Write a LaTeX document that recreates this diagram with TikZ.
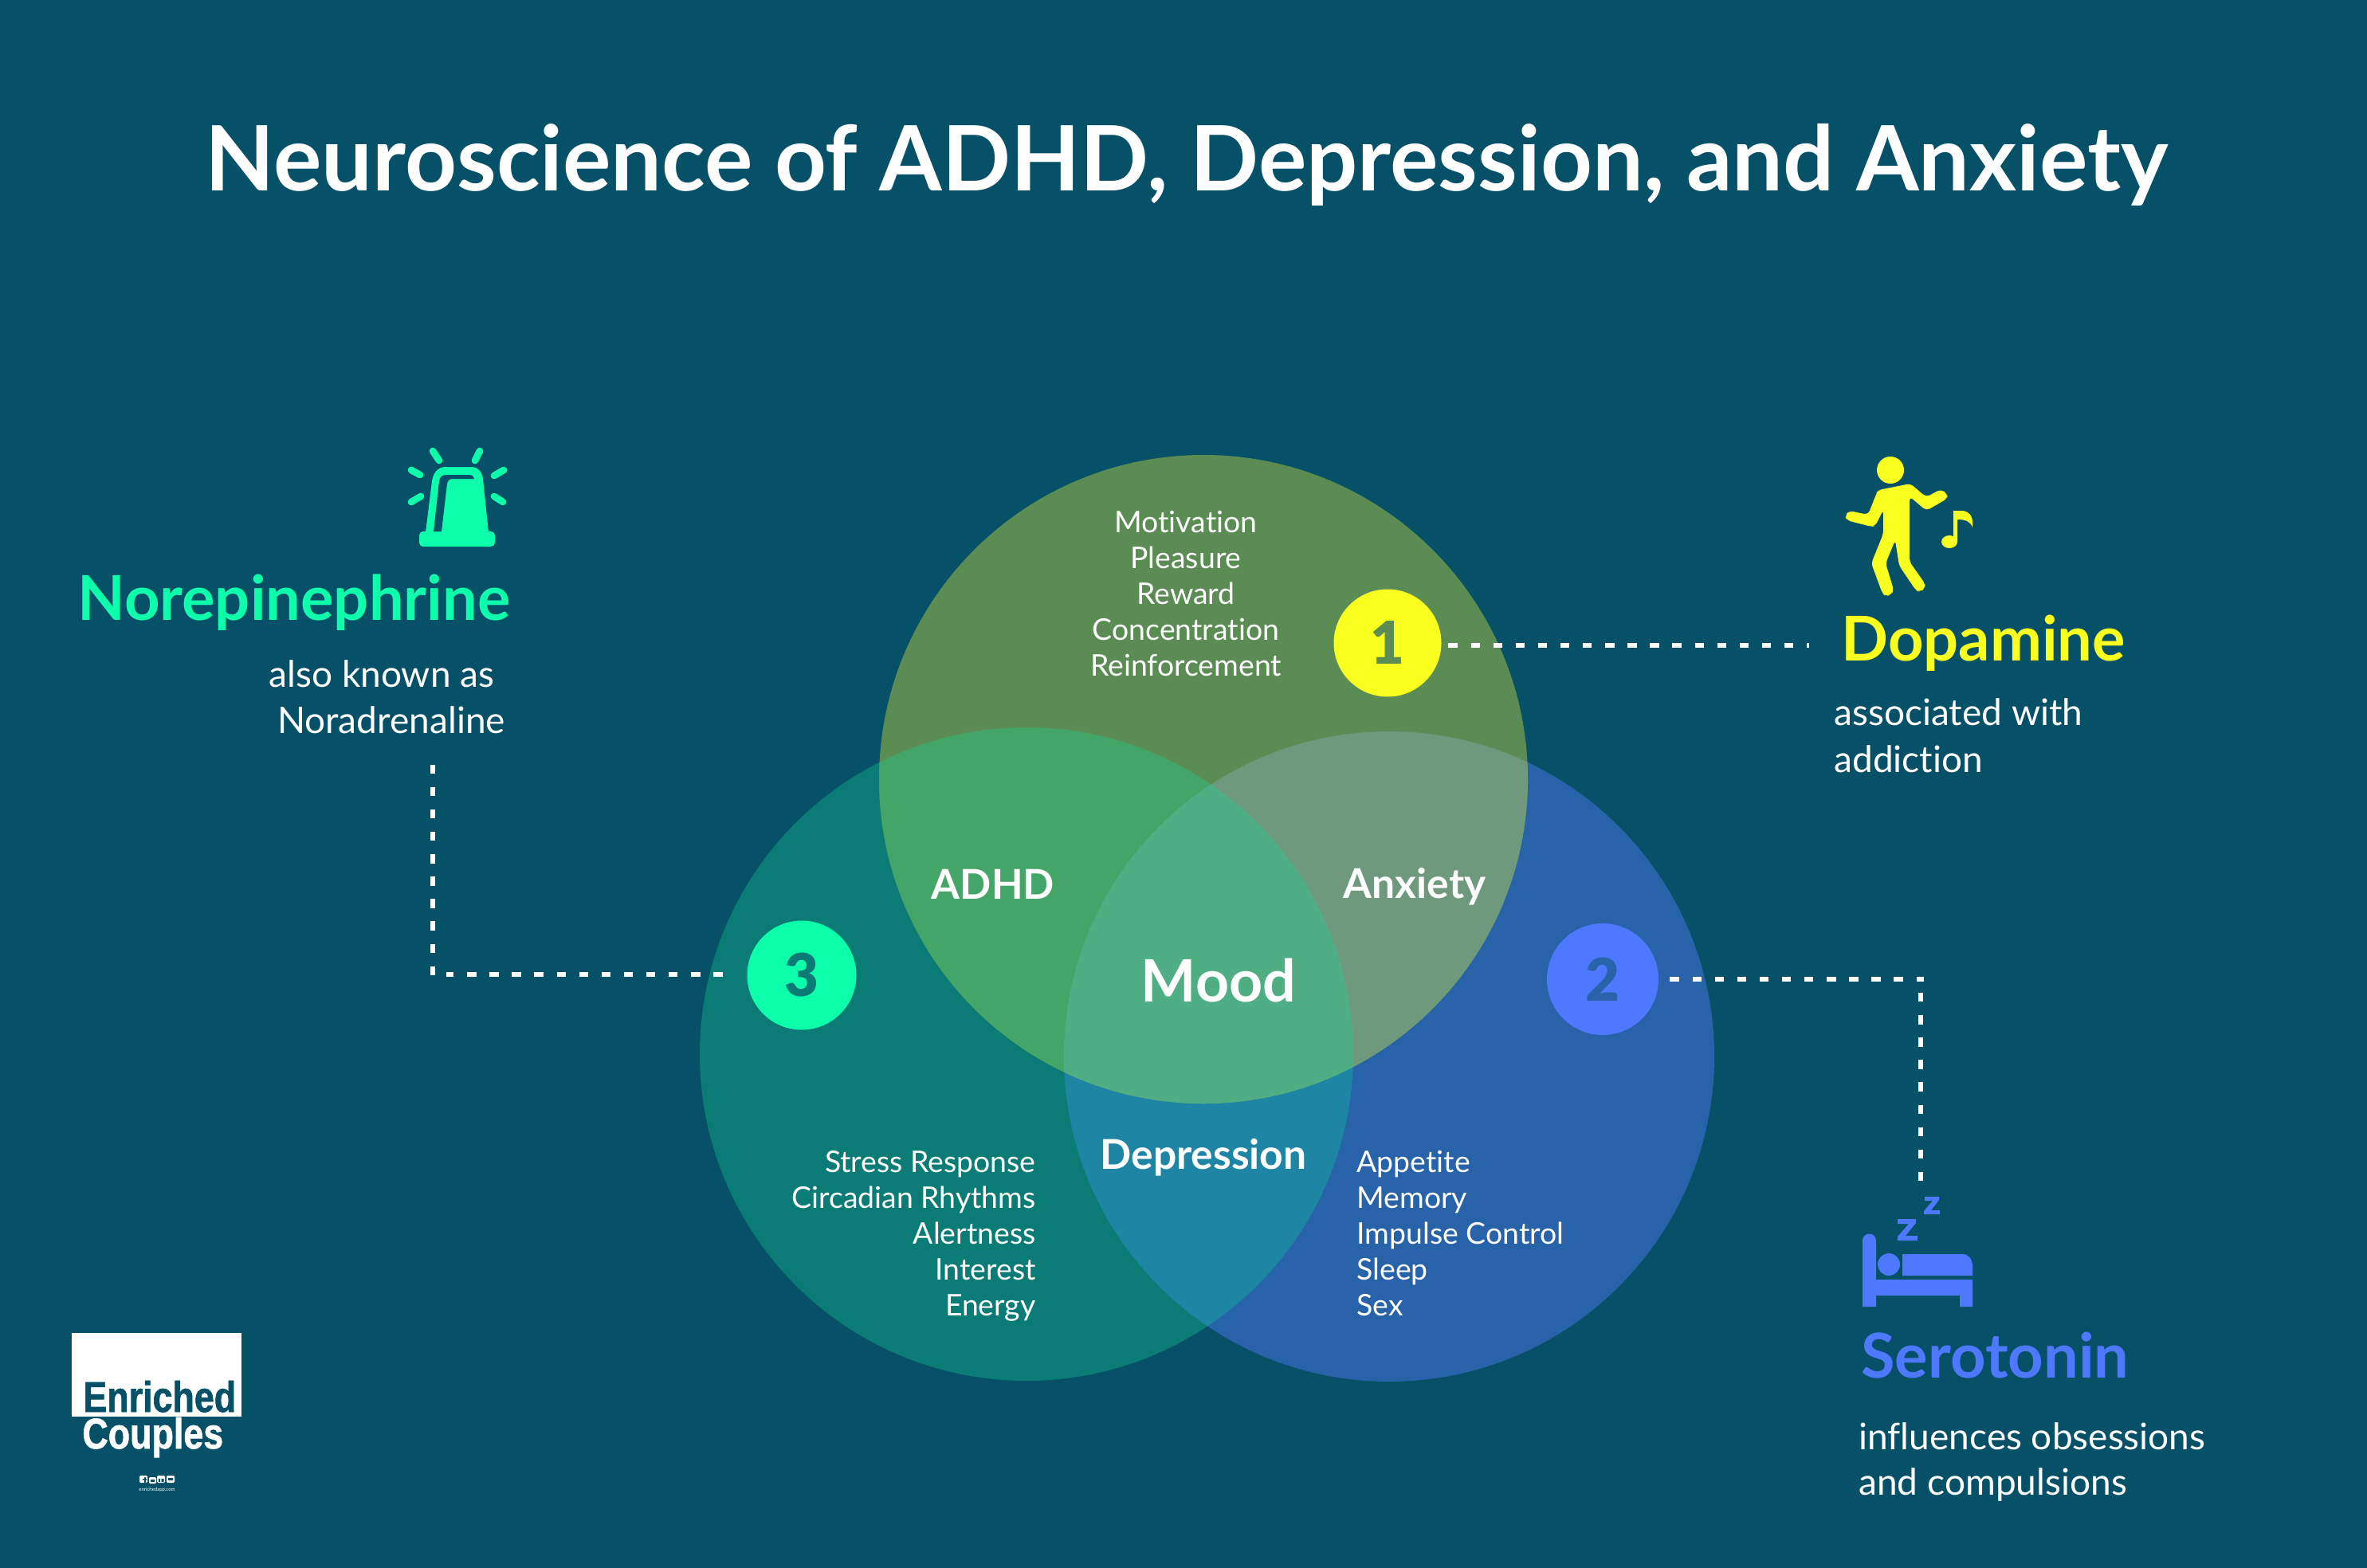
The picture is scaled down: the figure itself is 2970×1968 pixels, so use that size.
\documentclass[tikz,border=0pt]{standalone}
\usepackage{fontspec}
\setmainfont{Lato}[Ligatures={TeX,NoCommon}]
\newfontfamily\logof[FakeStretch=.83,FakeBold=1.2]{Liberation Sans}
\newfontfamily\blackf{Lato Black}
\definecolor{bgc}{RGB}{6,80,104}
\definecolor{yel}{RGB}{249,255,30}
\definecolor{grn}{RGB}{14,255,172}
\definecolor{blu}{RGB}{78,120,255}
\definecolor{rtop}{RGB}{90,140,83}
\definecolor{rleft}{RGB}{10,124,117}
\definecolor{rright}{RGB}{40,99,169}
\definecolor{radhd}{RGB}{67,165,103}
\definecolor{ranx}{RGB}{111,153,125}
\definecolor{rdep}{RGB}{31,133,164}
\definecolor{rmood}{RGB}{80,174,132}
\newcommand{\fss}[2]{\fontsize{#1}{#2}\selectfont}
\newcommand{\cT}{(1510,978) circle [radius=407]}
\newcommand{\cL}{(1288,1323) circle [radius=410]}
\newcommand{\cR}{(1743,1326) circle [radius=408]}
\tikzset{
 x=0.5pt,y=-0.5pt,
 lbl/.style={text=white,inner sep=0pt,font=\fss{23}{28}},
 listbox/.style={text=white,inner sep=0pt,font=\fss{18.7}{22.5}},
 area/.style={text=white,inner sep=0pt,anchor=base,font=\bfseries\fss{25.8}{30}},
 numb/.style={circle,inner sep=0pt,font=\blackf\fss{37}{40}},
 headg/.style={inner sep=0pt,anchor=west,font=\bfseries\fss{38.8}{44}},
 dots/.style={white,line width=2.85pt,dash pattern=on 5.7pt off 8.35pt},
}
\begin{document}
\begin{tikzpicture}
\useasboundingbox (0,0) rectangle (2970,1968);
\fill[bgc] (0,0) rectangle (2970,1968);
\node[text=white,inner sep=0pt,font=\bfseries\fss{56.6}{60}] (title) at (1489,207) {Neuroscience of ADHD, Depression, and Anxiety};
% venn regions
\fill[rright] \cR;
\fill[rleft] \cL;
\fill[rtop] \cT;
\begin{scope}\clip \cL; \fill[rdep] \cR; \end{scope}
\begin{scope}\clip \cL; \fill[radhd] \cT; \end{scope}
\begin{scope}\clip \cR; \fill[ranx] \cT; \end{scope}
\begin{scope}\clip \cL; \clip \cR; \fill[rmood] \cT; \end{scope}
% badges
\node[numb,fill=yel,text=rtop,minimum size=67.5pt] (n1) at (1741,807) {1};
\node[numb,fill=blu,text=rright,minimum size=70pt] (n2) at (2011,1229) {2};
\node[numb,fill=grn,text=rleft,minimum size=68.5pt] (n3) at (1006,1224) {3};
% lists
\node[listbox,align=center,anchor=north] (l1) at (1488,641) {Motivation\\Pleasure\\Reward\\Concentration\\Reinforcement};
\node[listbox,align=right,anchor=north east] (l3) at (1300,1444) {Stress Response\\Circadian Rhythms\\Alertness\\Interest\\Energy};
\node[listbox,align=left,anchor=north west] (l2) at (1702,1444) {Appetite\\Memory\\Impulse Control\\Sleep\\Sex};
\node[area] (adhd) at (1246,1128) {ADHD};
\node[area] (anx) at (1775,1127) {Anxiety};
\node[area] (dep) at (1510,1467) {Depression};
\node[area,font=\bfseries\fss{36.7}{40}] (mood) at (1529,1257) {Mood};
% side text
\node[headg,text=grn] (ne) at (97,756) {Norepinephrine};
\node[lbl] (ne1) at (479,846) {also known as};
\node[lbl] (ne2) at (491,904) {Noradrenaline};
\node[headg,text=yel] (da) at (2310,807) {Dopamine};
\node[lbl,anchor=west] (da1) at (2301,894) {associated with};
\node[lbl,anchor=west] (da2) at (2301,953) {addiction};
\node[headg,text=blu] (se) at (2335,1701) {Serotonin};
\node[lbl,anchor=west] (se1) at (2332,1803) {influences obsessions};
\node[lbl,anchor=west] (se2) at (2332,1863) {and compulsions};
% connectors
\coordinate (c1) at (2270,810);
\coordinate (c2a) at (2414,1229);
\coordinate (c2b) at (2410,1246);
\coordinate (c2c) at (2410,1482);
\coordinate (c3a) at (560,1223);
\coordinate (c3b) at (543,1224);
\coordinate (c3c) at (543,959);
\draw[dots] ([shift={(8.5,3)}]n1.east) -- (c1);
\draw[dots] ([xshift=7pt]n2.east) -- (c2a);
\draw[dots] (c2b) -- (c2c);
\draw[dots] ([shift={(-30.5,-1)}]n3.west) -- (c3a);
\draw[dots] (c3b) -- (c3c);
% alarm icon
\fill[grn,rounded corners=2.5pt] (526,667) rectangle (621,686);
\fill[grn] (534,668) -- (542,604) .. controls (544,592) and (550,586) .. (560,586) -- (590,586) .. controls (600,586) and (605,592) .. (606,602) -- (613,668) -- cycle;
\fill[bgc] (544,667) -- (551,604) .. controls (552,599) and (554,596) .. (560,596) -- (590,596) .. controls (593,596) and (594,598) .. (595,601) -- (568,601) .. controls (564,601) and (562,603) .. (561,607) -- (554,667) -- cycle;
\draw[grn,line width=4.3pt,line cap=round]
 (543,566) -- (551,578) (602,566) -- (596,578)
 (516,590) -- (527,596) (516,630) -- (528,623)
 (632,590) -- (620,597) (631,630) -- (620,623);
% dancer
\fill[yel] (2372,590) circle [radius=17];
\fill[yel,rounded corners=2.5pt] (2357,615) -- (2397,607) -- (2417,624) -- (2435,614)
 -- (2444,620) -- (2443,626) -- (2417,641) -- (2396,623) -- (2396,705) -- (2415,732)
 -- (2416,738) -- (2409,743) -- (2404,741) -- (2383,710) -- (2378,678) -- (2366,707) -- (2376,740) -- (2373,747) -- (2366,748) -- (2362,745) -- (2348,707) -- (2363,670) -- (2363,640) -- (2353,660) -- (2348,661) -- (2317,653) -- (2315,647) -- (2320,641) -- (2344,646) -- (2355,618) -- cycle;
\fill[yel] (2446,680) ellipse [x radius=10,y radius=8];
\fill[yel] (2451,680) -- (2451,641) -- (2463,641) .. controls (2474,643) and (2476,652) .. (2475,662) .. controls (2472,654) and (2466,652) .. (2456,652) -- (2456,680) -- cycle;
% bed
\fill[blu] (2337,1640) -- (2337,1557) arc [start angle=180,end angle=360,radius=8.5] -- (2354,1606) -- (2475,1606) -- (2475,1640) -- (2459,1640) -- (2459,1626) -- (2354,1626) -- (2354,1640) -- cycle;
\fill[blu] (2370,1587) circle [radius=14];
\fill[blu] (2387,1574) -- (2462,1574) .. controls (2470,1574) and (2475,1580) .. (2475,1590) -- (2475,1601) -- (2387,1601) -- cycle;
\fill[blu] (2381,1530) -- (2404,1530) -- (2404,1535) -- (2391,1551) -- (2406,1551) -- (2406,1557) -- (2381,1557) -- (2381,1552) -- (2395,1536) -- (2381,1536) -- cycle;
\fill[blu] (2415,1502) -- (2433,1502) -- (2433,1506) -- (2423,1519) -- (2434,1519) -- (2434,1524) -- (2414,1524) -- (2414,1520) -- (2425,1507) -- (2415,1507) -- cycle;
% logo
\fill[white] (90,1673) rectangle (303,1778);
\node[inner sep=0pt,anchor=base west,text=bgc,font=\logof\bfseries\fss{27}{30}] (logo1) at (104,1772) {Enriched};
\node[inner sep=0pt,anchor=base west,text=white,font=\logof\bfseries\fss{27}{30}] (logo2) at (103,1818) {Couples};
\node[inner sep=0pt,text=white,font=\fss{3}{4}] (logo3) at (197,1870) {enrichedapp.com};
\fill[white,rounded corners=.7pt] (175,1852) rectangle (185,1861) (187,1854) rectangle (196,1862) (197,1852) rectangle (207,1861) (209,1852) rectangle (219,1861);
\fill[bgc] (181,1854) rectangle (183,1861) (179,1856) rectangle (184,1857.5)
 (189,1857) rectangle (194,1860)
 (199,1856) rectangle (201,1860) (202.5,1856) rectangle (205.5,1860)
 (211,1855) rectangle (217,1858);
\end{tikzpicture}
\end{document}
